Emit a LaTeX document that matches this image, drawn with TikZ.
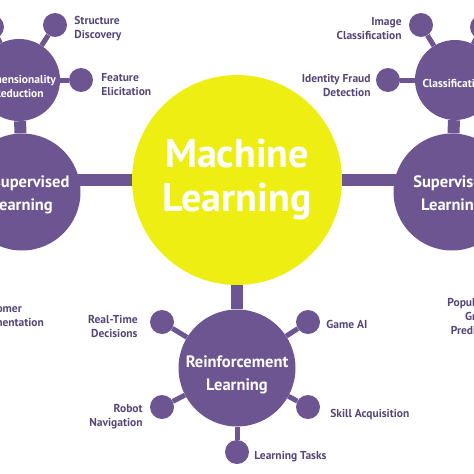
\documentclass[tikz,border=0pt]{standalone}
\usepackage{fontspec}
\setmainfont{PT Sans}
\usepackage{xcolor}
\definecolor{mlyellow}{RGB}{238,238,18}
\definecolor{hubpurple}{RGB}{108,85,145}
\definecolor{labelink}{RGB}{86,70,118}
\usetikzlibrary{positioning, backgrounds}

\begin{document}
\begin{tikzpicture}[
  x=1pt, y=-1pt,
  core/.style={circle, fill=mlyellow, minimum size=210pt, inner sep=0pt,
              text=white, align=center, font=\fontsize{40}{44}\selectfont\bfseries},
  hub/.style={circle, fill=hubpurple, inner sep=0pt, text=white, align=center},
  bighub/.style={hub, minimum size=117pt, font=\fontsize{16.5}{23}\selectfont\bfseries},
  smallhub/.style={hub, minimum size=80pt, font=\fontsize{11.5}{14}\selectfont\bfseries},
  dot/.style={circle, fill=hubpurple, minimum size=24pt, inner sep=0pt},
  tag/.style={font=\fontsize{11.5}{14}\selectfont\bfseries, text=labelink, inner sep=0pt, yshift=-4pt},
  link/.style={draw=hubpurple, line width=12pt},
  stem/.style={draw=hubpurple, line width=5pt},
]
\useasboundingbox (0,0) rectangle (474,474);
\clip (0,0) rectangle (474,474);

% Centre and main branches
\node[core] (ml) at (237,180) {Machine\\Learning};
\node[bighub, text height=39.5pt] (ul) at (22,192) {Unsupervised\\Learning};
\node[bighub, text height=39.5pt] (sl) at (452,192) {Supervised\\Learning};
\node[bighub, text height=49pt] (rl) at (237,368) {Reinforcement\\Learning};

% Sub topics
\node[smallhub, text height=36pt] (dr) at (19,80) {Dimensionality\\Reduction};
\node[smallhub, text height=14.5pt] (cl) at (455,80) {Classification};

% Dots round dimensionality reduction
\node[dot] (dr1) at (55,25) {};
\node[dot] (dr2) at (81,80) {};
\node[dot] (dr3) at (-8,27) {};

% Dots round classification
\node[dot] (cl1) at (421,25) {};
\node[dot] (cl2) at (388,80) {};
\node[dot] (cl3) at (482,27) {};

% Dots round reinforcement learning
\node[dot] (rl1) at (162,322) {};
\node[dot] (rl2) at (308,322) {};
\node[dot] (rl3) at (162,407) {};
\node[dot] (rl4) at (308,407) {};
\node[dot] (rl5) at (237,452) {};

% Labels
\node[tag, align=left, right=7pt of dr1] (dr1l) {Structure\\Discovery};
\node[tag, align=left, right=8pt of dr2, yshift=-1pt] (dr2l) {Feature\\Elicitation};
\node[tag, align=right, left=7pt of cl1] (cl1l) {Image\\Classification};
\node[tag, align=right, left=5pt of cl2, yshift=-1pt] (cl2l) {Identity Fraud\\Detection};
\node[tag, align=right, left=12pt of rl1] (rl1l) {Real-Time\\Decisions};
\node[tag, align=right, left=7pt of rl3, yshift=-6pt] (rl3l) {Robot\\Navigation};
\node[tag, align=left, right=6pt of rl2, yshift=2pt] (rl2l) {Game AI};
\node[tag, align=left, right=10pt of rl4, yshift=-4pt] (rl4l) {Skill Acquisition};
\node[tag, align=left, right=5pt of rl5, yshift=-1pt] (rl5l) {Learning Tasks};
\node[tag, align=left, anchor=west, yshift=2pt] (csl) at (-25,315) {Customer\\Segmentation};
\node[tag, align=right, anchor=east, yshift=4pt] (pgl) at (501,316) {Population\\Growth\\Prediction};

% Connectors behind the circles
\begin{scope}[on background layer]
\path[link] (ml.west) -- (ml.west -| ul.center);
\path[link] (ml.east) -- (ml.east -| sl.center);
\path[link] (ml) -- (rl);
\path[link] (dr) -- (ul);
\path[link] (cl) -- (sl);
\foreach \d in {dr1,dr2,dr3} \path[stem] (dr) -- (\d);
\foreach \d in {cl1,cl2,cl3} \path[stem] (cl) -- (\d);
\foreach \d in {rl1,rl2,rl3,rl4,rl5} \path[stem] (rl) -- (\d);
\end{scope}
\end{tikzpicture}
\end{document}
